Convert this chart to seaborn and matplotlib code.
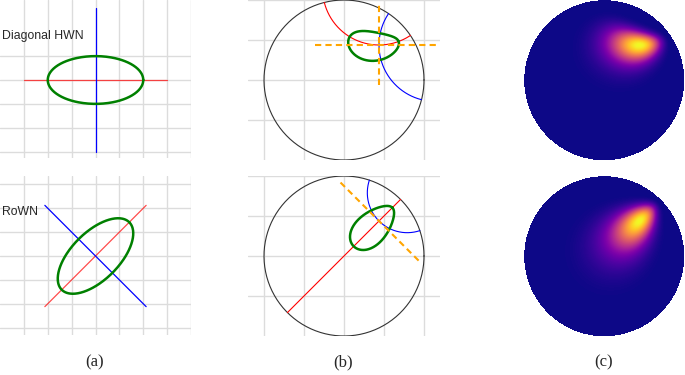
import numpy as np
import seaborn as sns
import matplotlib.pyplot as plt

# ---- values ----
mu = np.array([0.4375, 0.4375])      # mean on the Poincare disk
sigma = [0.55, 0.275]                # tangent ellipse semi-axes used in (b)
sigma_c = [0.40, 0.21]               # tangent scales of the density in (c)
ell_a = [2.0, 1.0]                   # ellipse semi-axes in (a)
axis_half = 3.0                      # red / blue axis half length in (a)
angles = [0, 45]                     # rotation of the two rows (deg)
row_names = ["Diagonal HWN", "RoWN"]
dash_major = [0.8, 0.0]              # orange dashed half length, major dir
dash_minor = [0.5, 0.7]              # orange dashed half length, minor dir
panel_labels = ["(a)", "(b)", "(c)"]
label_x = [95, 343, 604]

W, H = 685, 375


def box(x0, y0, x1, y1):
    return [x0 / W, 1 - y1 / H, (x1 - x0) / W, (y1 - y0) / H]


def rot(deg):
    t = np.deg2rad(deg)
    return np.array([[np.cos(t), -np.sin(t)], [np.sin(t), np.cos(t)]])


def mobius_add(x, y):
    xy = y @ x
    x2 = x @ x
    y2 = (y ** 2).sum(1)
    num = (1 + 2 * xy + y2)[:, None] * x + (1 - x2) * y
    den = 1 + 2 * xy + x2 * y2
    return num / den[:, None]


def line(ax, pts, color, lw, **kw):
    sns.lineplot(x=pts[:, 0], y=pts[:, 1], sort=False, estimator=None,
                 color=color, lw=lw, ax=ax, **kw)


def clean(ax):
    ax.tick_params(labelbottom=False, labelleft=False, length=0)
    for s in ax.spines.values():
        s.set_visible(False)
    ax.grid(True, color="#dcdcdc", lw=1)
    ax.set_axisbelow(True)


sns.set_style("whitegrid")
plt.rcParams["font.family"] = ["Liberation Sans", "DejaVu Sans"]

fig = plt.figure(figsize=(6.85, 3.75), dpi=100)

rows_a = [(0, 158, 80), (176, 335, 256)]
rows_bc = [(0, 160), (176, 336)]
phi = np.linspace(0, 2 * np.pi, 300)
tt = np.linspace(-0.99999, 0.99999, 600)

for i, ang in enumerate(angles):
    R = rot(ang)
    d1, d2 = R[:, 0], R[:, 1]

    # ---- (a) tangent space ----
    y0, y1, yc = rows_a[i]
    ax = fig.add_axes(box(0, y0, 191, y1))
    clean(ax)
    ppu = 191 / 8
    ax.set_xlim(-4, 4)
    ax.set_ylim(-(y1 - yc) / ppu, (yc - y0) / ppu)
    ax.set_xticks(range(-3, 5))
    ax.set_yticks(range(-3, 2) if i == 0 else range(-3, 4))
    s = np.array([-axis_half, axis_half])
    line(ax, np.outer(s, d1), "red", 0.9, alpha=0.7)
    line(ax, np.outer(s, d2), "blue", 0.9)
    ell = (R @ np.vstack([ell_a[0] * np.cos(phi), ell_a[1] * np.sin(phi)])).T
    line(ax, ell, "green", 1.8)
    ax.text(0.01, 0.775, row_names[i], transform=ax.transAxes,
            ha="left", va="center", fontsize=8.8)

    # ---- (b) Poincare disk ----
    y0, y1 = rows_bc[i]
    ax = fig.add_axes(box(248, y0, 440, y1))
    clean(ax)
    ax.set_xlim(-1.2, 1.2)
    ax.set_ylim(-1, 1)
    ax.set_xticks([-1, -0.5, 0, 0.5, 1])
    ax.set_yticks([-0.5, 0, 0.5, 1])
    line(ax, np.c_[np.cos(phi), np.sin(phi)], "#333333", 0.8)
    line(ax, mobius_add(mu, tt[:, None] * d1), "red", 0.8)
    line(ax, mobius_add(mu, tt[:, None] * d2), "blue", 0.8)
    v = (R @ np.vstack([sigma[0] * np.cos(phi), sigma[1] * np.sin(phi)])).T
    nv = np.linalg.norm(v, axis=1)
    line(ax, mobius_add(mu, np.tanh(nv)[:, None] * v / nv[:, None]), "green", 1.8)
    for half, d in [(dash_major[i], d1), (dash_minor[i], d2)]:
        if half > 0:
            seg = mu + np.outer([-half, half], d)
            line(ax, seg, "orange", 1.5, linestyle=(0, (3, 2)), zorder=5)

    # ---- (c) density on the disk ----
    n = 320
    g = (np.arange(n) + 0.5) / n * 2 - 1
    X, Y = np.meshgrid(g, g[::-1])
    Z = np.c_[X.ravel(), Y.ravel()]
    inside = (X ** 2 + Y ** 2) < 1
    with np.errstate(all="ignore"):
        u = mobius_add(-mu, Z)
        r = np.clip(np.linalg.norm(u, axis=1), 1e-12, 1 - 1e-9)
        vv = (np.arctanh(r) / r)[:, None] * u
        vr = vv @ R
        q = (vr[:, 0] / sigma_c[0]) ** 2 + (vr[:, 1] / sigma_c[1]) ** 2
        dist = 2 * np.arctanh(r)
        dens = np.exp(-0.5 * q) * dist / np.sinh(dist)
    dens = np.nan_to_num(dens).reshape(n, n)
    dens[~inside] = 0
    ax = fig.add_axes(box(524, y0, 684, y1))
    sns.heatmap(dens, mask=~inside, cmap="plasma", cbar=False,
                xticklabels=False, yticklabels=False, ax=ax,
                vmin=0, vmax=dens.max(), rasterized=True)
    ax.axis("off")

for lab, x in zip(panel_labels, label_x):
    fig.text(x / W, 1 - 362 / H, lab, ha="center", va="center",
             fontsize=12, family=["Liberation Serif", "DejaVu Serif"])

fig.savefig("out.png", dpi=100)
